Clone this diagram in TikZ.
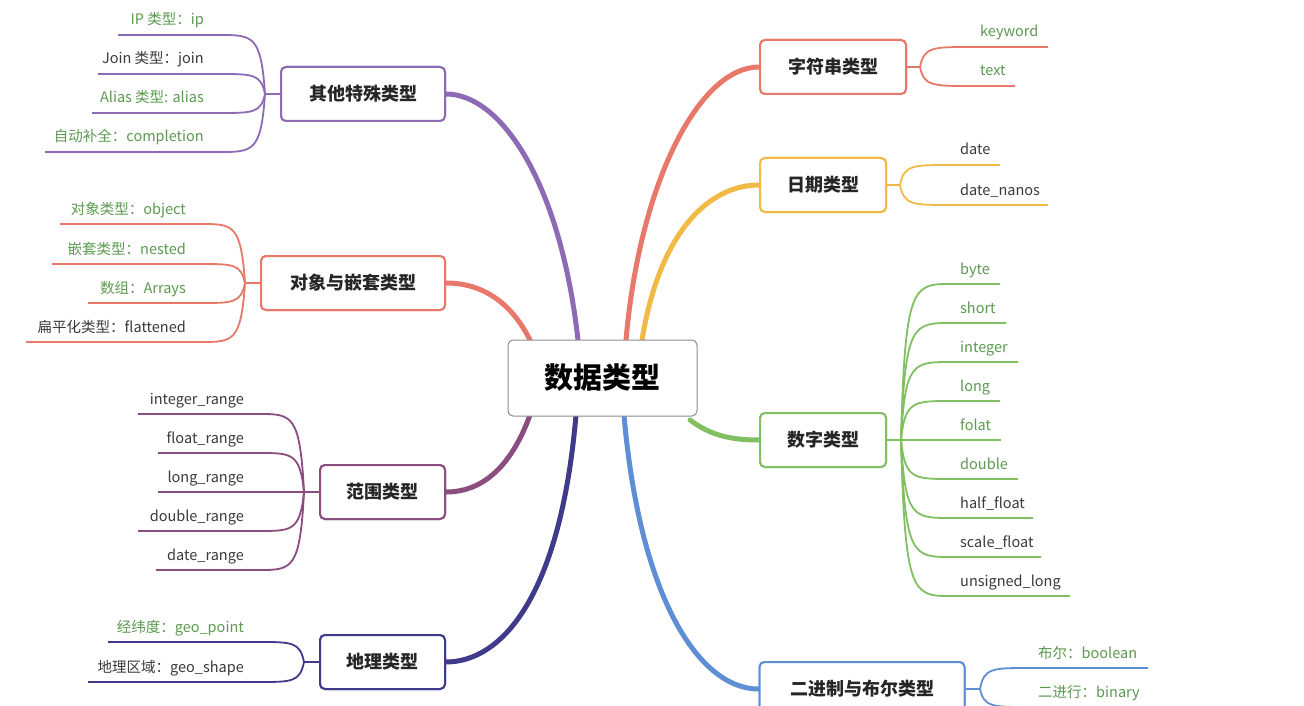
\documentclass[tikz,border=0pt]{standalone}
\usepackage{fontspec}
\setmainfont{Noto Sans CJK SC}
\usetikzlibrary{calc}
\definecolor{cred}{HTML}{E8786A}
\definecolor{cyel}{HTML}{F1B945}
\definecolor{cgrn}{HTML}{80C063}
\definecolor{cblu}{HTML}{5E8FD5}
\definecolor{cpur}{HTML}{8D6BB4}
\definecolor{cplum}{HTML}{8A4D7E}
\definecolor{cind}{HTML}{3F3A8A}
\definecolor{tgrn}{HTML}{5C9A50}
\definecolor{tdark}{HTML}{3A3A3A}
\tikzset{
 box/.style={draw=#1, line width=2pt, rounded corners=5pt, fill=white, minimum height=54pt, font=\fontsize{18}{20}\selectfont\bfseries, text=black!85, inner sep=0pt},
 leaf/.style={font=\fontsize{14.5}{16}\selectfont, inner sep=0pt},
 lline/.style={draw=#1, line width=1.8pt},
 trunk/.style={draw=#1, line width=5pt, line cap=round},
}
\newcommand\rleaf[7]{%
 \draw[lline=#6] let \p1=(#1) in (#1) .. controls (\x1+4,#2) and (\x1+12,#2) .. (#3+5,#2) -- (#4,#2);
 \node[leaf, text=#7, anchor=base west] at (#3+14,#2-10) {#5};}
\newcommand\lleaf[7]{%
 \draw[lline=#6] let \p1=(#1) in (#1) .. controls (\x1-4,#2) and (\x1-12,#2) .. (#3-5,#2) -- (#4,#2);
 \node[leaf, text=#7, anchor=base east] at (#3-20,#2-10) {#5};}
\begin{document}
\begin{tikzpicture}[x=1pt,y=-1pt]
\useasboundingbox[fill=white] (0,0) rectangle (1304,706);
\coordinate (c1) at (626,340); \coordinate (c2) at (642,340);
\coordinate (c3) at (690,420); \coordinate (c4) at (624,415);
\coordinate (c5) at (578,340); \coordinate (c6) at (530,340);
\coordinate (c7) at (530,415); \coordinate (c8) at (576,415);
\node[box=cred, minimum width=146pt] (s) at (833,67) {字符串类型};
\node[box=cyel, minimum width=126pt] (d) at (823,185) {日期类型};
\node[box=cgrn, minimum width=126pt] (n) at (823,440) {数字类型};
\node[box=cblu, minimum width=205pt] (b) at (862,689) {二进制与布尔类型};
\node[box=cpur, minimum width=164pt] (o) at (363,94) {其他特殊类型};
\node[box=cred, minimum width=184pt] (j) at (353,283) {对象与嵌套类型};
\node[box=cplum, minimum width=125pt] (r) at (382.5,492) {范围类型};
\node[box=cind, minimum width=125pt] (g) at (382.5,662) {地理类型};
\draw[trunk=cred] (c1) .. controls (640,180) and (700,67) .. (s.west);
\draw[trunk=cyel] (c2) .. controls (660,230) and (710,185) .. (d.west);
\draw[trunk=cgrn] (c3) .. controls (710,435) and (730,440) .. (n.west);
\draw[trunk=cblu] (c4) .. controls (640,600) and (700,689) .. (b.west);
\draw[trunk=cpur] (c5) .. controls (560,180) and (500,94) .. (o.east);
\draw[trunk=cred] (c6) .. controls (510,300) and (480,283) .. (j.east);
\draw[trunk=cplum] (c7) .. controls (510,470) and (480,492) .. (r.east);
\draw[trunk=cind] (c8) .. controls (560,600) and (500,662) .. (g.east);
\node[box=cred, minimum width=146pt] at (833,67) {字符串类型};
\node[box=cyel, minimum width=126pt] at (823,185) {日期类型};
\node[box=cgrn, minimum width=126pt] at (823,440) {数字类型};
\node[box=cblu, minimum width=205pt] at (862,689) {二进制与布尔类型};
\node[box=cpur, minimum width=164pt] at (363,94) {其他特殊类型};
\node[box=cred, minimum width=184pt] at (353,283) {对象与嵌套类型};
\node[box=cplum, minimum width=125pt] at (382.5,492) {范围类型};
\node[box=cind, minimum width=125pt] at (382.5,662) {地理类型};
\node[draw=black!45, line width=1pt, rounded corners=5pt, fill=white, minimum width=189pt, minimum height=76pt, font=\fontsize{29}{32}\selectfont\bfseries] (m) at (602.5,378) {数据类型};
\coordinate (js) at (920,67); \coordinate (jd) at (900,185);
\coordinate (jn) at (901,440); \coordinate (jb) at (980,689);
\coordinate (jo) at (265,94); \coordinate (jj) at (245,283);
\coordinate (jr) at (304,492); \coordinate (jg) at (304,662);
\draw[lline=cred] (s.east) -- (js);
\draw[lline=cyel] (d.east) -- (jd);
\draw[lline=cgrn] (n.east) -- (jn);
\draw[lline=cblu] (b.east) -- (jb);
\draw[lline=cpur] (o.west) -- (jo);
\draw[lline=cred] (j.west) -- (jj);
\draw[lline=cplum] (r.west) -- (jr);
\draw[lline=cind] (g.west) -- (jg);
\rleaf{js}{47}{966}{1048}{keyword}{cred}{tgrn}
\rleaf{js}{86}{966}{1015}{text}{cred}{tgrn}
\rleaf{jd}{165}{946}{1000}{date}{cyel}{tdark}
\rleaf{jd}{205}{946}{1048}{date\_nanos}{cyel}{tdark}
\rleaf{jn}{284}{946}{1000}{byte}{cgrn}{tgrn}
\rleaf{jn}{323}{946}{1006}{short}{cgrn}{tgrn}
\rleaf{jn}{362}{946}{1018}{integer}{cgrn}{tgrn}
\rleaf{jn}{401}{946}{1000}{long}{cgrn}{tgrn}
\rleaf{jn}{440}{946}{1001}{folat}{cgrn}{tgrn}
\rleaf{jn}{479}{946}{1018}{double}{cgrn}{tgrn}
\rleaf{jn}{518}{946}{1033}{half\_float}{cgrn}{tdark}
\rleaf{jn}{557}{946}{1041}{scale\_float}{cgrn}{tdark}
\rleaf{jn}{596}{946}{1070}{unsigned\_long}{cgrn}{tdark}
\rleaf{jb}{668}{1024}{1148}{布尔：boolean}{cblu}{tgrn}
\rleaf{jb}{707}{1024}{1148}{二进行：binary}{cblu}{tgrn}
\lleaf{jo}{35}{224}{118}{IP 类型：ip}{cpur}{tgrn}
\lleaf{jo}{74}{224}{98}{Join 类型：join}{cpur}{tdark}
\lleaf{jo}{113}{224}{92}{Alias 类型: alias}{cpur}{tgrn}
\lleaf{jo}{152}{224}{45}{自动补全：completion}{cpur}{tgrn}
\lleaf{jj}{224}{206}{60}{对象类型：object}{cred}{tgrn}
\lleaf{jj}{264}{206}{52}{嵌套类型：nested}{cred}{tgrn}
\lleaf{jj}{303}{206}{88}{数组：Arrays}{cred}{tgrn}
\lleaf{jj}{342}{206}{26}{扁平化类型：flattened}{cred}{tdark}
\lleaf{jr}{414}{264}{138}{integer\_range}{cplum}{tdark}
\lleaf{jr}{453}{264}{158}{float\_range}{cplum}{tdark}
\lleaf{jr}{492}{264}{158}{long\_range}{cplum}{tdark}
\lleaf{jr}{531}{264}{138}{double\_range}{cplum}{tdark}
\lleaf{jr}{570}{264}{156}{date\_range}{cplum}{tdark}
\lleaf{jg}{642}{264}{108}{经纬度：geo\_point}{cind}{tgrn}
\lleaf{jg}{682}{264}{88}{地理区域：geo\_shape}{cind}{tdark}
\end{tikzpicture}
\end{document}
